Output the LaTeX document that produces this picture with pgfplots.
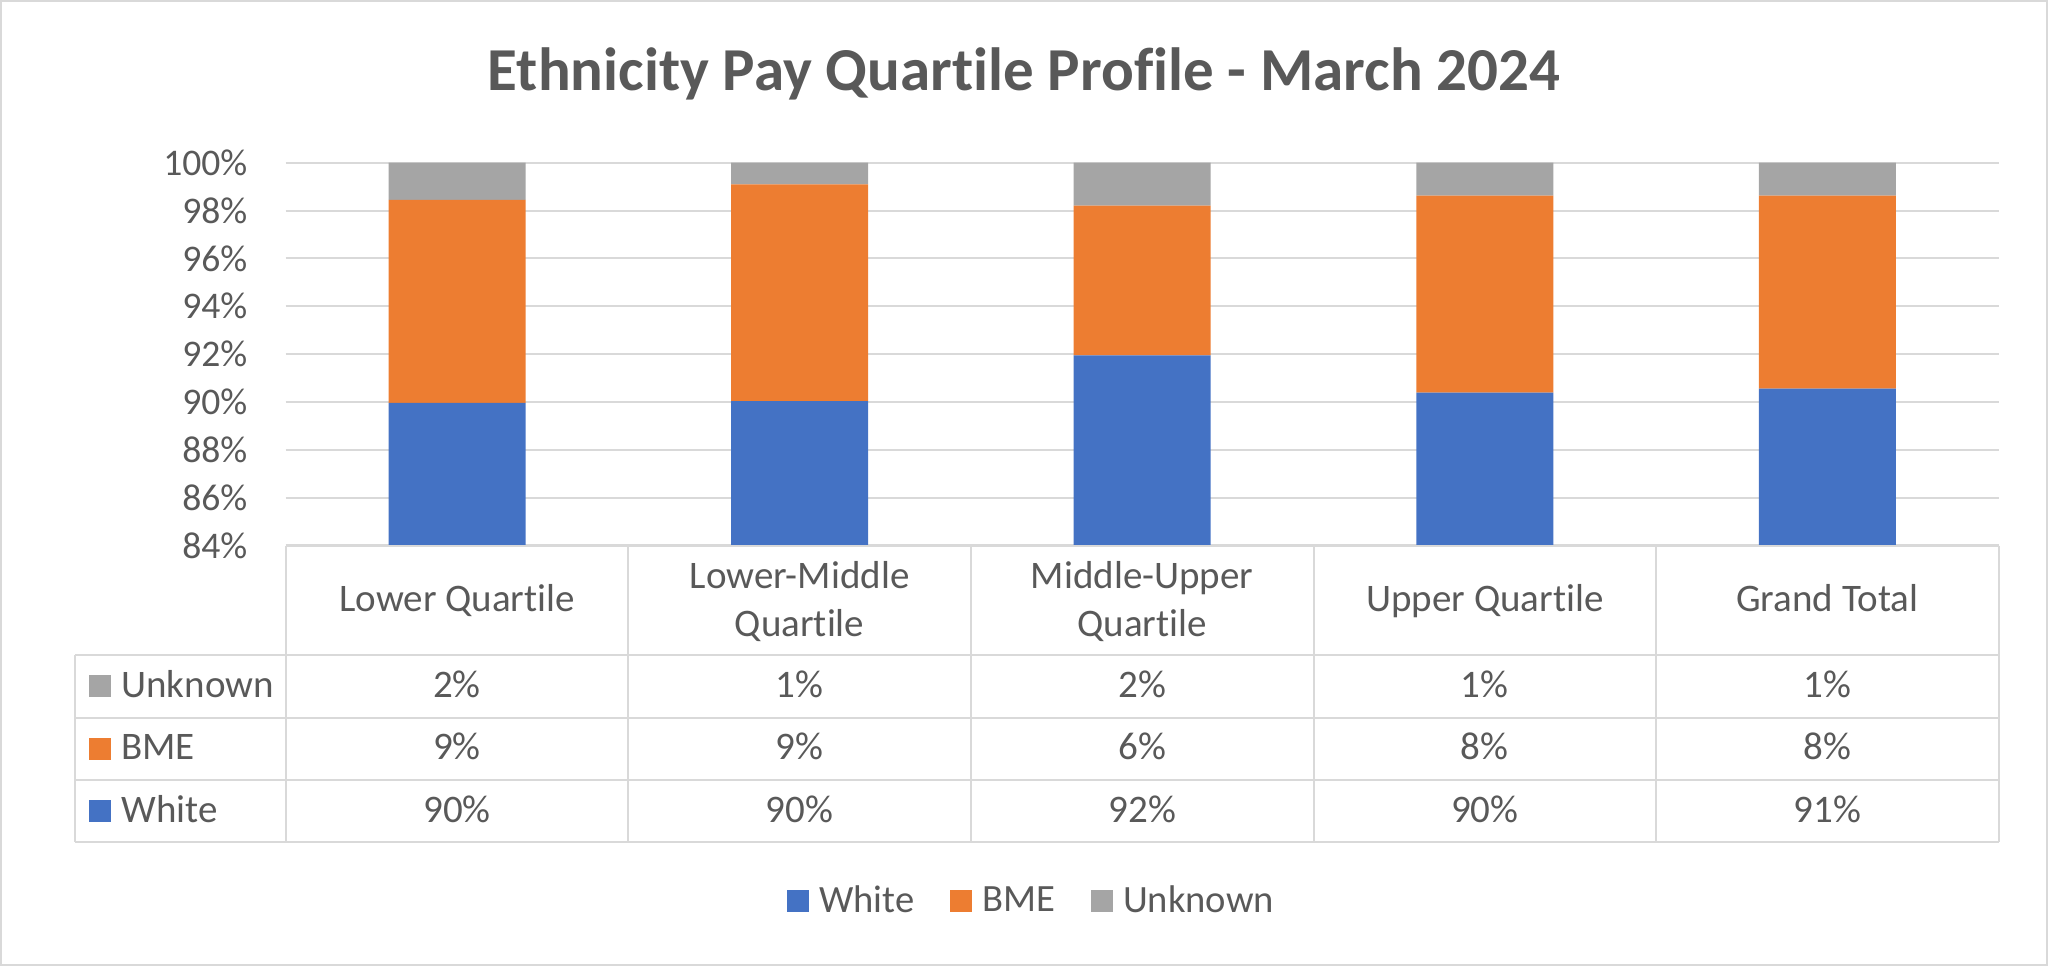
\documentclass[border=0pt]{standalone}
\usepackage{pgfplots}
\pgfplotsset{compat=1.18}
\usepackage{pgfplotstable}
\usepackage{fontspec}
\setmainfont[Ligatures={NoCommon}]{Carlito}
\definecolor{cBlue}{HTML}{4472C4}
\definecolor{cOrange}{HTML}{ED7D31}
\definecolor{cGray}{HTML}{A5A5A5}
\definecolor{cText}{HTML}{595959}
\definecolor{cLine}{HTML}{D9D9D9}

\pgfplotstableread{
x white bme unknown
0 89.96 8.49 1.55
1 90.03 9.06 0.91
2 91.95 6.25 1.80
3 90.39 8.23 1.38
4 90.56 8.06 1.38
}\data

\newcommand{\tf}{\fontsize{19.5bp}{24bp}\selectfont}
\newcommand{\lf}{\fontsize{19.3bp}{24bp}\selectfont}
\newcommand{\kf}{\fontsize{18.8bp}{24bp}\selectfont}

\begin{document}
\begin{tikzpicture}
\begin{axis}[
  at={(142.85bp,210.25bp)}, anchor=south west,
  scale only axis, width=856.5bp, height=191.4bp,
  ybar stacked, bar width=68.5bp,
  xmin=-0.5, xmax=4.5, ymin=84, ymax=100,
  xtick=\empty,
  ytick={84,86,...,100},
  yticklabel={\pgfmathprintnumber{\tick}\%},
  /pgf/number format/assume math mode=true,
  yticklabel style={anchor=east, inner sep=0pt, xshift=-19bp, text=cText, font=\kf},
  ymajorgrids, grid style={cLine, line width=1bp},
  major tick length=0pt,
  axis line style={draw=none},
  legend style={draw=none, fill=none, at={(0.4348,-0.9287)}, anchor=center,
    legend columns=-1, font=\lf, text=cText, nodes={inner sep=0pt},
    /tikz/every odd column/.append style={column sep=5bp},
    /tikz/every even column/.append style={column sep=18bp}},
  legend image code/.code={\fill[#1, draw=none] (0bp,-5.5bp) rectangle (11bp,5.5bp);},
]
\addplot[fill=cBlue, draw=none] table[x=x,y=white]{\data};
\addplot[fill=cOrange, draw=none] table[x=x,y=bme]{\data};
\addplot[fill=cGray, draw=none] table[x=x,y=unknown]{\data};
\legend{White,BME,Unknown}
\end{axis}
\begin{scope}[x=0.5bp,y=0.5bp]
\useasboundingbox (0,0) rectangle (2048,966);
\draw[cLine, line width=1bp] (1,1) rectangle (2047,965);
\node[anchor=base, text=cText, inner sep=0pt, font=\fontsize{30.5bp}{36bp}\selectfont\bfseries] at (1024,875) {Ethnicity Pay Quartile Profile - March 2024};
% data table
\draw[cLine, line width=1bp] (285.7,420.5) -- (1998.7,420.5);
\foreach \yy in {311,248.3,186,123.7}{\draw[cLine, line width=1bp] (75,\yy) -- (1998.7,\yy);}
\draw[cLine, line width=1bp] (75,311) -- (75,123.7);
\foreach \xx in {285.7,628.3,970.9,1313.5,1656.1,1998.7}{\draw[cLine, line width=1bp] (\xx,420.5) -- (\xx,123.7);}
\begin{scope}[every node/.style={anchor=base, inner sep=0pt, text=cText, font=\tf}]
\node at (457,354.3) {Lower Quartile};
\node at (799.6,377.7) {Lower-Middle};
\node at (799.6,329.3) {Quartile};
\node at (1142.2,377.7) {Middle-Upper};
\node at (1142.2,329.3) {Quartile};
\node at (1484.8,354.3) {Upper Quartile};
\node at (1827.4,354.3) {Grand Total};
% rows
\fill[cGray] (89,290.6) rectangle (111,268.6);
\fill[cOrange] (89,228.1) rectangle (111,206.1);
\fill[cBlue] (89,165.8) rectangle (111,143.8);
\node[anchor=base west] at (121,268.6) {Unknown};
\node[anchor=base west] at (121,206.1) {BME};
\node[anchor=base west] at (121,143.8) {White};
\foreach \xx/\a/\b/\c in {457/2/9/90, 799.6/1/9/90, 1142.2/2/6/92, 1484.8/1/8/90, 1827.4/1/8/91}{
  \node at (\xx,268.6) {\a\%};
  \node at (\xx,206.1) {\b\%};
  \node at (\xx,143.8) {\c\%};
}
\end{scope}
\end{scope}
\end{tikzpicture}
\end{document}
